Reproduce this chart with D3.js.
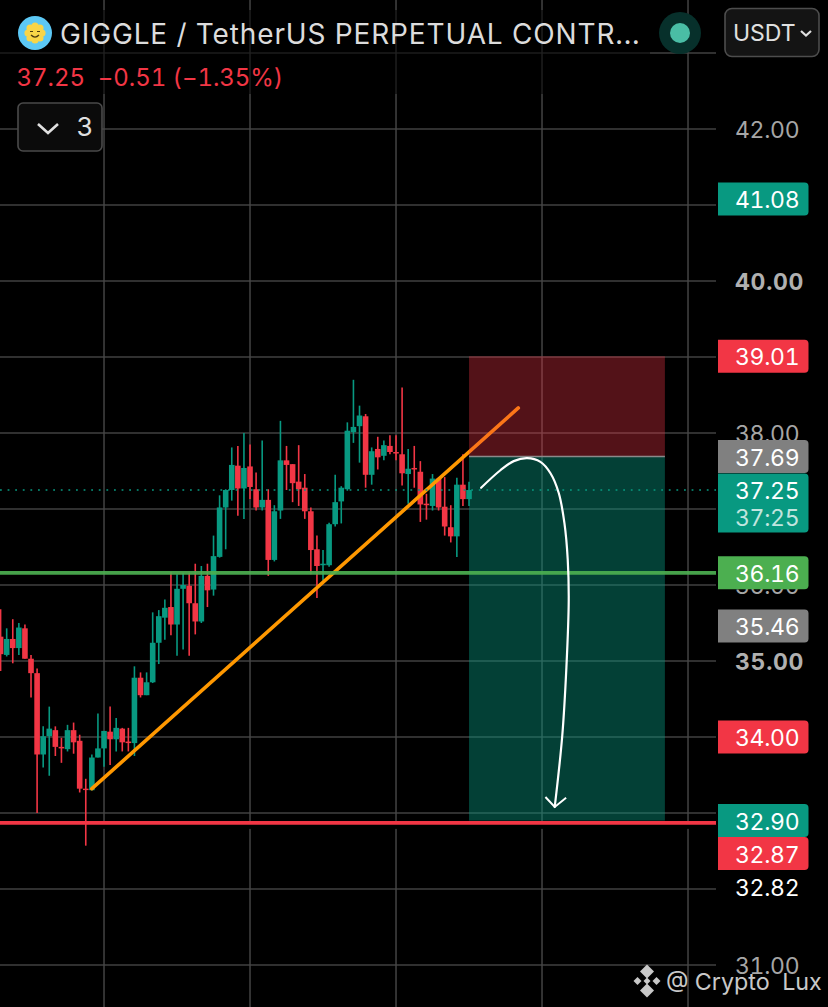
<!DOCTYPE html>
<html>
<head>
<meta charset="utf-8">
<script src="https://cdnjs.cloudflare.com/ajax/libs/d3/7.8.5/d3.min.js"></script>
<style>
  html, body { margin: 0; background: #000; }
  svg { display: block; }
  text { font-family: Inter, "Noto Sans", sans-serif; font-variant-numeric: tabular-nums; }
</style>
</head>
<body>
<div id="visArea"></div>
<script>
var opens  = [35.32,35.08,35.29,35.17,35.43,35.03,34.84,33.77,34.01,34.09,33.87,33.84,34.09,33.95,33.32,33.30,33.73,33.85,34.07,33.97,34.11,33.94,33.92,34.78,34.55,34.72,35.24,35.57,35.71,35.48,35.95,35.99,35.76,35.52,36.12,35.94,36.37,37.02,37.25,37.57,37.27,37.56,37.26,37.02,37.12,36.33,36.98,37.64,37.59,37.36,37.28,36.97,36.47,36.26,36.26,36.80,37.10,37.26,38.01,38.09,38.22,37.45,37.79,37.70,37.83,37.75,37.72,37.46,37.54,37.49,37.07,37.04,37.40,37.03,36.76,36.64,37.32,37.13];
var highs  = [35.68,35.43,35.55,35.50,35.48,35.08,34.90,34.14,34.40,34.14,33.99,34.16,34.19,34.03,33.45,33.77,34.31,34.08,34.40,34.25,34.12,34.12,34.93,34.85,34.85,35.64,35.67,35.81,36.17,36.14,36.16,36.16,36.28,36.25,36.28,36.65,37.18,37.26,37.81,37.83,38.00,37.85,37.48,37.90,37.26,37.05,38.16,37.83,37.59,37.84,37.46,37.02,36.65,36.46,36.82,37.45,37.30,38.14,38.70,38.36,38.25,37.81,37.95,37.90,37.97,37.97,38.60,37.79,37.83,37.63,37.20,37.46,37.42,37.42,37.05,37.41,37.72,37.36];
var lows   = [34.87,35.06,34.97,35.08,35.03,34.52,33.00,33.60,33.49,33.75,33.66,33.81,33.78,33.27,32.57,33.30,33.73,33.61,33.63,33.81,33.81,33.81,33.75,34.52,34.55,34.71,34.96,35.28,35.34,35.07,35.15,35.07,35.35,35.50,35.71,35.86,36.36,36.47,37.11,36.91,36.87,37.13,36.98,36.98,36.12,36.31,36.87,37.25,37.09,37.04,36.87,36.14,35.83,36.06,36.24,36.77,36.81,37.24,37.87,37.61,37.28,37.32,37.52,37.64,37.72,37.64,37.31,37.07,37.28,36.83,36.86,36.98,36.98,36.65,36.56,36.37,37.04,37.04];
var closes = [35.09,35.29,35.17,35.44,35.03,34.84,33.77,34.01,34.11,33.87,33.85,34.09,33.93,33.32,33.31,33.73,33.85,34.08,33.97,34.12,33.93,33.92,34.78,34.55,34.72,35.24,35.59,35.70,35.48,35.95,36.00,35.76,35.52,36.12,35.93,36.38,37.02,37.25,37.58,37.27,37.54,37.29,37.02,37.12,36.33,36.97,37.64,37.58,37.34,37.26,36.97,36.46,36.25,36.28,36.80,37.09,37.28,38.03,38.08,38.23,37.45,37.76,37.68,37.84,37.75,37.73,37.47,37.53,37.52,37.06,37.05,37.40,37.02,36.77,36.64,37.32,37.13,37.25];

var gridPrices = [43,42,41,40,39,38,37,36,35,34,33,32,31];
var gridBars = [17,41,65,89,113];

var axisPrices = [42,40,38,36,35,31];
var boldPrices = [40,35];

// right hand price tags, top to bottom
var tagPrices = [41.08,39.01,37.69,37.25,36.16,35.46,34.00,32.90,32.87,32.82];
var tagKinds  = ['up','down','neutral','up','level','neutral','down','up','down','plain'];
var countdown = '37:25';

var trendBars = [15,85.1];
var trendPrices = [33.32,38.33];

var stopPrice = 39.01, entryPrice = 37.69, targetPrice = 32.90;
var positionBars = [77,109.2];
var lastPrice = 37.25, supportPrice = 36.16, lowPrice = 32.87;

var arrowBars   = [78.99,82.16,84.35,86.55,88.74,90.39,91.75,92.69,93.23,93.39,93.01,92.31,91.09];
var arrowPrices = [37.28,37.51,37.63,37.67,37.62,37.47,37.21,36.81,36.33,35.80,34.92,34.00,33.08];
var arrowHeadBars   = [89.56,91.09,92.96];
var arrowHeadPrices = [33.21,33.08,33.20];

var UP = '#089981', DOWN = '#f23645', LEVEL = '#4caf50', GREY = '#808080';
var W = 828, H = 1007, plotRight = 716;
var priceX = 735;

var x = d3.scaleLinear().domain([0,24]).range([0.6,146.6]);
var y = d3.scaleLinear().domain([42,31]).range([129,965]);

var svg = d3.select('#visArea').append('svg').attr('width', W).attr('height', H);
svg.append('rect').attr('width', W).attr('height', H).attr('fill', '#000');

drawGrid();
var bars = d3.range(opens.length);
drawCandles(bars.slice(0,-1));
drawTrend();
drawPosition();
drawCandles(bars.slice(-1));
drawLevels();
drawArrow();
drawAxisLabels();
drawTags();
drawHeader();
drawWatermark();


function drawGrid(){
  var g = svg.append('g').attr('class', 'grid');
  g.selectAll('line.h').data(gridPrices).enter().append('line')
    .attr('class', 'h')
    .attr('x1', 0).attr('x2', plotRight)
    .attr('y1', function(d){ return y(d); })
    .attr('y2', function(d){ return y(d); })
    .attr('stroke', '#404040').attr('stroke-width', 1.4);
  g.selectAll('line.v').data(gridBars).enter().append('line')
    .attr('class', 'v')
    .attr('x1', function(d){ return x(d); })
    .attr('x2', function(d){ return x(d); })
    .attr('y1', 0).attr('y2', H)
    .attr('stroke', '#484848').attr('stroke-width', 1.4);
  // the verticals break just under the low line
  g.append('rect').attr('x', 0).attr('width', plotRight)
    .attr('y', y(lowPrice)).attr('height', 6).attr('fill', '#000');
}


function drawCandles(idx){
  var w = 5.6;
  var g = svg.append('g').attr('class', 'candles');
  function col(i){ return closes[i] >= opens[i] ? UP : DOWN; }
  g.selectAll('line').data(idx).enter().append('line')
    .attr('x1', function(i){ return x(i); })
    .attr('x2', function(i){ return x(i); })
    .attr('y1', function(i){ return y(highs[i]); })
    .attr('y2', function(i){ return y(lows[i]); })
    .attr('stroke', col).attr('stroke-width', 1.6);
  g.selectAll('rect').data(idx).enter().append('rect')
    .attr('x', function(i){ return x(i) - w/2; })
    .attr('width', w)
    .attr('y', function(i){ return y(Math.max(opens[i], closes[i])); })
    .attr('height', function(i){ return Math.max(1.4, Math.abs(y(opens[i]) - y(closes[i]))); })
    .attr('fill', col);
}


function drawTrend(){
  svg.append('line')
    .attr('x1', x(trendBars[0])).attr('y1', y(trendPrices[0]))
    .attr('x2', x(trendBars[1])).attr('y2', y(trendPrices[1]))
    .attr('stroke', '#ff9800').attr('stroke-width', 3.6).attr('stroke-linecap', 'round');
}


function drawPosition(){
  var x0 = x(positionBars[0]), bw = x(positionBars[1]) - x0;
  svg.append('rect').attr('x', x0).attr('width', bw)
    .attr('y', y(stopPrice)).attr('height', y(entryPrice) - y(stopPrice))
    .attr('fill', DOWN).attr('fill-opacity', 0.34);
  svg.append('rect').attr('x', x0).attr('width', bw)
    .attr('y', y(entryPrice)).attr('height', y(targetPrice) - y(entryPrice))
    .attr('fill', UP).attr('fill-opacity', 0.42);
  svg.append('line').attr('x1', x0).attr('x2', x0 + bw)
    .attr('y1', y(entryPrice)).attr('y2', y(entryPrice))
    .attr('stroke', '#8a8a8a').attr('stroke-width', 1.5);
}


function drawLevels(){
  svg.append('line').attr('x1', 0).attr('x2', plotRight)
    .attr('y1', y(lastPrice)).attr('y2', y(lastPrice))
    .attr('stroke', UP).attr('stroke-width', 1.6).attr('stroke-dasharray', '1.8 5.8');
  svg.append('line').attr('x1', 0).attr('x2', plotRight)
    .attr('y1', y(supportPrice)).attr('y2', y(supportPrice))
    .attr('stroke', LEVEL).attr('stroke-opacity', 0.92).attr('stroke-width', 3.8);
  svg.append('line').attr('x1', 0).attr('x2', plotRight)
    .attr('y1', y(lowPrice)).attr('y2', y(lowPrice))
    .attr('stroke', DOWN).attr('stroke-width', 3.8);
}


function drawArrow(){
  var curve = d3.line()
    .x(function(i){ return x(arrowBars[i]); })
    .y(function(i){ return y(arrowPrices[i]); })
    .curve(d3.curveCatmullRom);
  svg.append('path').attr('d', curve(d3.range(arrowBars.length)))
    .attr('fill', 'none').attr('stroke', '#fff').attr('stroke-width', 2.2).attr('stroke-linecap', 'round');
  var head = d3.line()
    .x(function(i){ return x(arrowHeadBars[i]); })
    .y(function(i){ return y(arrowHeadPrices[i]); });
  svg.append('path').attr('d', head(d3.range(arrowHeadBars.length)))
    .attr('fill', 'none').attr('stroke', '#fff').attr('stroke-width', 2);
}


function drawAxisLabels(){
  var g = svg.append('g').attr('class', 'axis');
  g.selectAll('text').data(axisPrices).enter().append('text')
    .attr('x', priceX).attr('y', function(d){ return y(d); })
    .attr('dy', '0.4em')
    .attr('font-size', 23)
    .attr('letter-spacing', function(d){ return boldPrices.indexOf(d) >= 0 ? 0.7 : -0.3; })
    .attr('font-weight', function(d){ return boldPrices.indexOf(d) >= 0 ? 700 : 400; })
    .attr('fill', function(d){ return boldPrices.indexOf(d) >= 0 ? '#b0b0b0' : '#a6a6a6'; })
    .text(function(d){ return d.toFixed(2); });
}


function tagColor(kind){
  if (kind == 'up') return UP;
  if (kind == 'down') return DOWN;
  if (kind == 'level') return LEVEL;
  if (kind == 'neutral') return GREY;
  return 'none';
}


// tags that would overlap get pushed down under the previous one
function layoutTags(hRow){
  var tops = [], bottom = -Infinity;
  tagPrices.forEach(function(p){
    var t = Math.max(y(p) - hRow/2, bottom);
    tops.push(t);
    bottom = t + (p == lastPrice ? 59 : hRow);
  });
  return tops;
}


function drawTags(){
  var hRow = 33;
  var tops = layoutTags(hRow);
  var xl = 718, wTag = 90.5, r = 4;
  var g = svg.append('g').attr('class', 'tags');
  tagPrices.forEach(function(p, i){
    var h = p == lastPrice ? 59 : hRow;
    if (tagKinds[i] != 'plain'){
      g.append('path')
        .attr('d', 'M' + xl + ',' + tops[i] + 'H' + (xl + wTag - r) + 'a' + r + ',' + r + ' 0 0 1 ' + r + ',' + r +
                   'V' + (tops[i] + h - r) + 'a' + r + ',' + r + ' 0 0 1 ' + (-r) + ',' + r + 'H' + xl + 'Z')
        .attr('fill', tagColor(tagKinds[i]));
    }
    g.append('text').attr('x', priceX).attr('y', tops[i] + hRow/2).attr('dy', '0.4em')
      .attr('font-size', 23).attr('letter-spacing', -0.3)
      .attr('fill', '#fff').text(p.toFixed(2));
    if (p == lastPrice){
      g.append('text').attr('x', priceX).attr('y', tops[i] + hRow/2 + 27).attr('dy', '0.4em')
        .attr('font-size', 23).attr('letter-spacing', -0.3)
        .attr('fill', '#fff').attr('fill-opacity', 0.75).text(countdown);
    }
  });
}


function drawHeader(){
  var g = svg.append('g').attr('class', 'header');
  g.append('rect').attr('x', 0).attr('y', 10).attr('width', 650).attr('height', 84)
    .attr('fill', '#000').attr('fill-opacity', 0.55);

  // coin logo
  g.append('circle').attr('cx', 35).attr('cy', 33).attr('r', 17).attr('fill', '#5cc8f5');
  d3.range(8).forEach(function(k){
    var a = k * Math.PI / 4;
    g.append('circle').attr('cx', 35 + 7 * Math.cos(a)).attr('cy', 33 + 7 * Math.sin(a)).attr('r', 3.6).attr('fill', '#f8d548');
  });
  g.append('circle').attr('cx', 35).attr('cy', 33).attr('r', 8).attr('fill', '#f8d548');
  g.append('path').attr('d', 'M30,31.5h3 M37,31.5h3 M31,35q4,4 8,0')
    .attr('fill', 'none').attr('stroke', '#4a3a10').attr('stroke-width', 1.2);

  g.append('text').attr('x', 60).attr('y', 43.5).attr('font-size', 28).attr('letter-spacing', 0.87)
    .attr('fill', '#dcdcdc').text('GIGGLE / TetherUS PERPETUAL CONTR...');
  g.append('text').attr('x', 16.5).attr('y', 86).attr('font-size', 24).attr('letter-spacing', -0.05)
    .attr('fill', DOWN).text('37.25\u00a0 \u22120.51 (\u22121.35%)');

  // collapse button
  g.append('rect').attr('x', 18).attr('y', 103).attr('width', 84).attr('height', 48).attr('rx', 5)
    .attr('fill', '#0b0b0b').attr('stroke', '#4a4a4a').attr('stroke-width', 1.6);
  g.append('path').attr('d', 'M38,124l10,9l10,-9').attr('fill', 'none')
    .attr('stroke', '#e0e0e0').attr('stroke-width', 2.6);
  g.append('text').attr('x', 85).attr('y', 136).attr('font-size', 26).attr('text-anchor', 'middle')
    .attr('fill', '#e0e0e0').text('3');

  // status dot
  g.append('circle').attr('cx', 680).attr('cy', 33).attr('r', 21).attr('fill', '#07302b');
  g.append('circle').attr('cx', 680).attr('cy', 33).attr('r', 10).attr('fill', '#4abda5');

  // currency button
  g.append('rect').attr('x', 725).attr('y', 8.5).attr('width', 94).attr('height', 48).attr('rx', 7)
    .attr('fill', '#141414').attr('stroke', '#4d4d4d').attr('stroke-width', 1.6);
  g.append('text').attr('x', 733).attr('y', 41).attr('font-size', 23).attr('fill', '#e0e0e0').text('USDT');
  g.append('path').attr('d', 'M801,31l5,4.5l5,-4.5').attr('fill', 'none')
    .attr('stroke', '#e0e0e0').attr('stroke-width', 2.2);
}


function drawWatermark(){
  var g = svg.append('g').attr('class', 'watermark').attr('fill', '#c8c8c8');
  var cx = 647, cy = 981;
  [[0,-9.5],[-9.5,0],[9.5,0],[0,9.5]].forEach(function(o){
    var s = o[0] == 0 ? 7 : 4;
    var px = cx + o[0], py = cy + o[1];
    g.append('path').attr('d', 'M' + (px - s) + ',' + py + 'L' + px + ',' + (py - s) + 'L' + (px + s) + ',' + py + 'L' + px + ',' + (py + s) + 'Z');
  });
  g.append('path').attr('d', 'M' + (cx - 3.5) + ',' + cy + 'L' + cx + ',' + (cy - 3.5) + 'L' + (cx + 3.5) + ',' + cy + 'L' + cx + ',' + (cy + 3.5) + 'Z');
  g.append('text').attr('x', 666).attr('y', 990).attr('font-size', 23.3)
    .text('@ Crypto\u00a0 Lux');
}
</script>
</body>
</html>
